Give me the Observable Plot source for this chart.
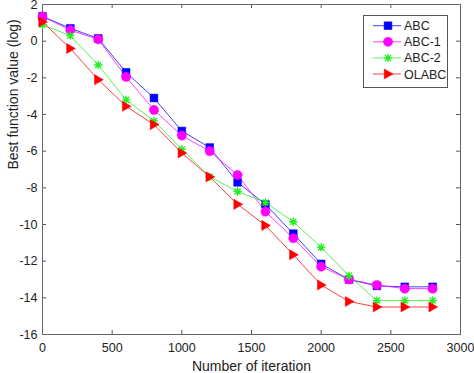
<!DOCTYPE html>
<html><head><meta charset="utf-8">
<script src="https://cdn.jsdelivr.net/npm/d3@7"></script>
<script src="https://cdn.jsdelivr.net/npm/@observablehq/plot@0.6"></script>
<style>
body{margin:0;background:#fff;font-family:"Liberation Sans",Arial,sans-serif}
#c{position:relative;width:474px;height:373px}
</style>
</head><body><div id="c"></div>
<script>
const iterations = [0,200,400,600,800,1000,1200,1400,1600,1800,2000,2200,2400,2600,2800];
const abc   = [1.35,0.7,0.15,-1.7,-3.1,-4.9,-5.8,-7.7,-8.9,-10.5,-12.15,-13.0,-13.35,-13.4,-13.4];
const abc1  = [1.35,0.6,0.1,-1.95,-3.75,-5.15,-6.0,-7.3,-9.3,-10.75,-12.3,-13.0,-13.3,-13.5,-13.5];
const abc2  = [0.9,0.3,-1.3,-3.2,-4.35,-5.9,-7.4,-8.2,-8.8,-9.85,-11.25,-12.8,-14.15,-14.15,-14.15];
const olabc = [1.05,-0.4,-2.1,-3.55,-4.55,-6.1,-7.4,-8.9,-10.05,-11.65,-13.3,-14.2,-14.5,-14.5,-14.5];
const seriesNames = ["ABC","ABC-1","ABC-2","OLABC"];
const seriesValues = [abc, abc1, abc2, olabc];
const seriesColors = ["#0000ff","#ff00ff","#22ee22","#ff0000"];
const xTicks = [0,500,1000,1500,2000,2500,3000];
const yTicks = [-16,-14,-12,-10,-8,-6,-4,-2,0,2];
const xLabel = "Number of iteration";
const yLabel = "Best function value (log)";

const triRight = {draw(ctx, size){ const r = Math.sqrt(size/Math.PI);
  ctx.moveTo(r*1.15,0); ctx.lineTo(-r*0.85,-r*1.15); ctx.lineTo(-r*0.85,r*1.15); ctx.closePath(); }};
const star8 = {draw(ctx, size){ const r = Math.sqrt(size/Math.PI), d = r*0.72;
  ctx.moveTo(-r,0); ctx.lineTo(r,0); ctx.moveTo(0,-r); ctx.lineTo(0,r);
  ctx.moveTo(-d,-d); ctx.lineTo(d,d); ctx.moveTo(-d,d); ctx.lineTo(d,-d); }};
const seriesSymbols = [d3.symbolSquare, d3.symbolCircle, star8, triRight];
const seriesFilled = [true,true,false,true];
const seriesR = [4.4,4.6,4.2,4.4];

const rows = [];
seriesNames.forEach((s,i)=>iterations.forEach((x,j)=>rows.push({series:s, x, y: seriesValues[i][j], i})));

const W=474,H=373,mL=42,mR=14,mT=4,mB=39;
const xPerPx = 3000/(W-mL-mR), yPerPx = 18/(H-mT-mB);
const tk = 4;

const marks = [
  Plot.ruleX(xTicks,{x:d=>d,y1:-16,y2:-16+tk*yPerPx,stroke:"#555"}),
  Plot.ruleX(xTicks,{x:d=>d,y1:2,y2:2-tk*yPerPx,stroke:"#555"}),
  Plot.ruleY(yTicks,{y:d=>d,x1:0,x2:tk*xPerPx,stroke:"#555"}),
  Plot.ruleY(yTicks,{y:d=>d,x1:3000,x2:3000-tk*xPerPx,stroke:"#555"}),
  Plot.frame({stroke:"#666"}),
  Plot.axisX({ticks:xTicks,tickSize:0,tickPadding:9,tickFormat:d=>String(d),fontSize:12.5,color:"#222",label:null}),
  Plot.axisY({ticks:yTicks,tickSize:0,tickPadding:5,tickFormat:d=>String(d),fontSize:12.5,color:"#222",label:null}),
  Plot.text([xLabel],{text:d=>d,frameAnchor:"bottom",dy:36,fontSize:14,fill:"#222"}),
  Plot.text([yLabel],{text:d=>d,frameAnchor:"left",dx:-29,rotate:-90,fontSize:14,fill:"#222"})
];
seriesNames.forEach((s,i)=>{
  const d = rows.filter(r=>r.i===i);
  marks.push(Plot.line(d,{x:"x",y:"y",stroke:seriesColors[i],strokeWidth:1,strokeOpacity:0.75}));
});
seriesNames.forEach((s,i)=>{
  const d = rows.filter(r=>r.i===i);
  const f = seriesFilled[i];
  marks.push(Plot.dot(d,{x:"x",y:"y",symbol:()=>seriesSymbols[i],r:seriesR[i],
    fill: f?seriesColors[i]:"none", stroke: seriesColors[i], strokeWidth: f?0.5:1.4}));
});

const plot = Plot.plot({
  width:W,height:H,marginLeft:mL,marginRight:mR,marginTop:mT,marginBottom:mB,
  style:{fontFamily:"'Liberation Sans',Arial,sans-serif",background:"#fff",overflow:"visible"},
  x:{domain:[0,3000]},
  y:{domain:[-16,2]},
  symbol:{type:"identity"},
  marks
});
document.getElementById("c").appendChild(plot);

// legend
const svg = d3.select(plot);
const g = svg.append("g").attr("font-family","'Liberation Sans',Arial,sans-serif").attr("font-size",12.5).attr("text-anchor","start");
g.append("rect").attr("x",363.5).attr("y",15.5).attr("width",84).attr("height",72).attr("fill","#fff").attr("stroke","#555");
seriesNames.forEach((s,i)=>{
  const cy = 25.7 + i*16.1;
  g.append("line").attr("x1",373).attr("x2",401).attr("y1",cy).attr("y2",cy).attr("stroke",seriesColors[i]).attr("stroke-opacity",0.75);
  const f = seriesFilled[i];
  g.append("path").attr("transform",`translate(388,${cy})`)
    .attr("d",d3.symbol(seriesSymbols[i], Math.PI*seriesR[i]*seriesR[i])())
    .attr("fill",f?seriesColors[i]:"none").attr("stroke",seriesColors[i]).attr("stroke-width",f?0.5:1.4);
  g.append("text").attr("x",404).attr("y",cy).attr("dy","0.36em").attr("fill","#222").text(s);
});
</script></body></html>
